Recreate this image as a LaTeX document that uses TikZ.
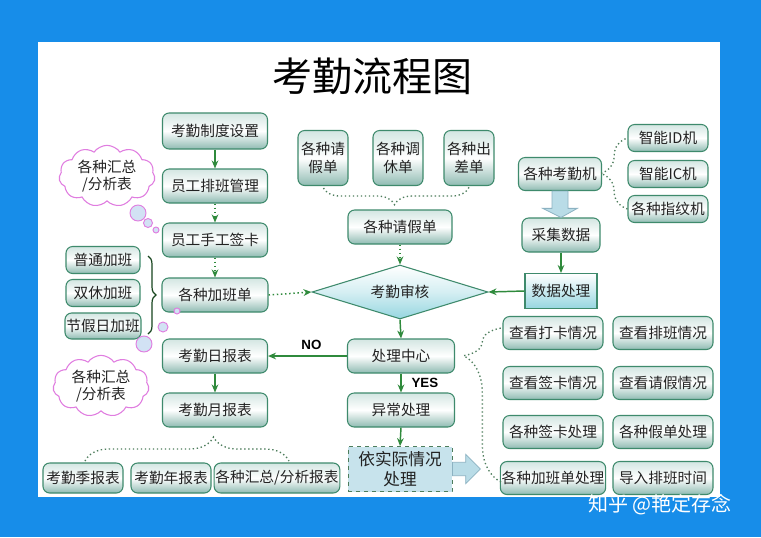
\documentclass[tikz,border=0pt]{standalone}
\usepackage{fontspec}
\setmainfont{Noto Sans CJK SC}
\newfontfamily\lat{Liberation Sans}
\usetikzlibrary{shapes.geometric,shapes.symbols,arrows.meta,decorations.pathreplacing}
\definecolor{bgblue}{HTML}{178DE9}
\definecolor{bord}{HTML}{3E8A6C}
\definecolor{btop}{HTML}{D3E6E2}
\definecolor{bbot}{HTML}{8FBBB2}
\definecolor{arrg}{HTML}{2F8A3C}
\definecolor{dotg}{HTML}{4D7D5C}
\definecolor{cpink}{HTML}{E07DE0}
\definecolor{bub}{HTML}{D2E2F4}
\definecolor{cyanb}{HTML}{96D6E0}
\definecolor{fatf}{HTML}{B9DCE7}
\definecolor{fatd}{HTML}{8CB2C2}
\definecolor{txt}{HTML}{222222}
\begin{document}
\begin{tikzpicture}[x=0.75pt,y=-0.75pt,
  bw/.style={minimum width=#1*0.75pt},
  bh/.style={minimum height=#1*0.75pt},
  box/.style={draw=bord, line width=0.8pt, rounded corners=5pt, top color=btop, bottom color=bbot, middle color=white, text=txt, inner sep=1pt, align=center, font=\fontsize{11}{14}\selectfont, bw=105, bh=34},
  sbox/.style={box, bw=80, bh=28},
  gbox/.style={box, bw=100, bh=33},
  sarr/.style={draw=arrg, line width=1.1pt, -{Stealth[length=6pt,width=5pt]}},
  darr/.style={draw=arrg, line width=1.1pt, dotted, -{Stealth[length=6pt,width=5pt]}},
  dbrace/.style={draw=dotg, line width=1pt, dotted, decorate},
  cloudn/.style={cloud, cloud puffs=11, cloud puff arc=110, aspect=1.7, draw=cpink, fill=white, line width=0.8pt, minimum width=72pt, minimum height=46pt, align=center, inner sep=0pt, text=txt, font=\fontsize{11}{13}\selectfont},
  bubn/.style={circle, draw=cpink, fill=bub, line width=0.7pt, inner sep=0pt, minimum size=#1*0.75pt},
  fat/.style={draw=fatd, fill=fatf, line width=0.6pt},
  lab/.style={font=\lat\bfseries\fontsize{10}{12}\selectfont, text=black}
]
\useasboundingbox (0,0) rectangle (761,537);
\fill[bgblue] (0,0) rectangle (761,537);
\fill[white] (38,42) rectangle (720,497);

\node[font=\fontsize{30}{34}\selectfont, text=black] (title) at (372,76) {考勤流程图};

% left column
\node[box, bh=36] (n1) at (215,131) {考勤制度设置};
\node[box] (n2) at (215,186) {员工排班管理};
\node[box] (n3) at (215,240) {员工手工签卡};
\node[box, bw=106] (n4) at (215,295) {各种加班单};
\node[box] (r1) at (215,356) {考勤日报表};
\node[box] (r2) at (215,410) {考勤月报表};

\node[box, bw=74, bh=27] (o1) at (103,260) {普通加班};
\node[box, bw=74, bh=27] (o2) at (103,293) {双休加班};
\node[box, bw=76, bh=26] (o3) at (103,326) {节假日加班};

\node[box, bw=80, bh=30] (b1) at (83,478) {考勤季报表};
\node[box, bw=80, bh=30] (b2) at (171,478) {考勤年报表};
\node[box, bw=121, bh=30] (b3) at (277,478) {各种汇总/分析报表};

% clouds
\node[cloudn] (cl1) at (107,176) {各种汇总\\/分析表};
\node[bubn=16] (c11) at (138,213) {};
\node[bubn=9] (c12) at (148,223) {};
\node[bubn=6] (c13) at (156,230) {};
\node[cloudn] (cl2) at (101,386) {各种汇总\\/分析表};
\node[bubn=16] (c21) at (144,344) {};
\node[bubn=10] (c22) at (163,327) {};
\node[bubn=6] (c23) at (177,311) {};

% middle column
\node[box, bw=50, bh=55] (q1) at (323,158) {各种请\\假单};
\node[box, bw=50, bh=55] (q2) at (398,158) {各种调\\休单};
\node[box, bw=50, bh=55] (q3) at (469,158) {各种出\\差单};
\node[box, bw=104] (q) at (400,227) {各种请假单};
\node[diamond, aspect=3.2, draw=bord, line width=0.8pt, top color=white, bottom color=cyanb, middle color=white!60!cyanb, inner sep=0pt, minimum width=132pt, minimum height=40.5pt, text=txt, font=\fontsize{11}{14}\selectfont] (d) at (400,292) {考勤审核};
\node[box, bw=107] (c) at (401,356) {处理中心};
\node[box, bw=107] (e) at (401,410) {异常处理};
\node[draw=dotg, dashed, line width=0.6pt, fill=fatf!80!white, bw=104, bh=45, align=center, inner sep=1pt, text=txt, font=\fontsize{12.5}{15}\selectfont] (f) at (400,469) {依实际情况\\处理};

% right side
\node[box, bw=83, bh=33] (m) at (560,174) {各种考勤机};
\node[sbox, bh=27] (i1) at (668,138) {智能ID机};
\node[sbox, bh=27] (i2) at (668,174) {智能IC机};
\node[sbox, bh=27] (i3) at (668,209) {各种指纹机};
\node[box, bw=78] (g) at (561,235) {采集数据};
\node[draw=bord, line width=0.8pt, top color=white, bottom color=cyanb, text=txt, font=\fontsize{11}{14}\selectfont, bw=72, bh=35] (p) at (561,291) {数据处理};

\node[gbox] (k1) at (553,333) {查看打卡情况};
\node[gbox] (k2) at (663,333) {查看排班情况};
\node[gbox] (k3) at (553,383) {查看签卡情况};
\node[gbox] (k4) at (663,383) {查看请假情况};
\node[gbox] (k5) at (553,432) {各种签卡处理};
\node[gbox] (k6) at (663,432) {各种假单处理};
\node[gbox] (k7) at (553,478) {各种加班单处理};
\node[gbox] (k8) at (663,478) {导入排班时间};

% fat arrows
\coordinate (fa0) at (m.south);
\filldraw[fat] ([xshift=-6pt]m.south) -- ([xshift=6pt]m.south) -- ([xshift=6pt,yshift=-13pt]m.south) -- ([xshift=13pt,yshift=-13pt]m.south) -- (g.north) -- ([xshift=-13pt,yshift=-13pt]m.south) -- ([xshift=-6pt,yshift=-13pt]m.south) -- cycle;
\filldraw[fat] ([yshift=5pt]f.east) -- ([xshift=10pt,yshift=5pt]f.east) -- ([xshift=10pt,yshift=11pt]f.east) -- ([xshift=21pt]f.east) -- ([xshift=10pt,yshift=-11pt]f.east) -- ([xshift=10pt,yshift=-5pt]f.east) -- ([yshift=-5pt]f.east) -- cycle;

% connectors
\draw[sarr] (n1) -- (n2);
\draw[darr] (n2) -- (n3);
\draw[darr] (n3) -- (n4);
\draw[darr] (n4.east) -- (d.west);
\draw[darr] (q.south) -- (d.north);
\draw[sarr] (d.south) -- (c.north);
\draw[sarr] (c.west) -- node[lab, above, pos=0.45, yshift=1pt] {NO} (r1.east);
\draw[sarr] (c.south) -- node[lab, right, xshift=4pt] {YES} (e.north);
\draw[sarr] (e.south) -- (f.north);
\draw[sarr] (r1) -- (r2);
\draw[sarr] (g) -- (p);
\draw[sarr] (p.west) -- (d.east);

% braces
\draw[draw=arrg!50!black, line width=0.9pt, decorate, decoration={brace, amplitude=6pt}] (148,256) -- (148,334);
\draw[dbrace, decoration={brace, amplitude=13pt, aspect=0.51}] ([yshift=-1pt]q3.south) -- ([yshift=-1pt]q1.south);
\draw[dbrace, decoration={brace, amplitude=18pt, aspect=0.63}] (85,461) -- (289,461);
\draw[dbrace, decoration={brace, amplitude=20pt, aspect=0.5}] (i3.west) -- (i1.west);
\draw[dbrace, decoration={brace, amplitude=28pt, aspect=0.82}] (501,482) -- (501,328);

% watermark
\node[text=white, font=\fontsize{15}{18}\selectfont] (wm) at (660,505) {知乎 @艳定存念};
\end{tikzpicture}
\end{document}
